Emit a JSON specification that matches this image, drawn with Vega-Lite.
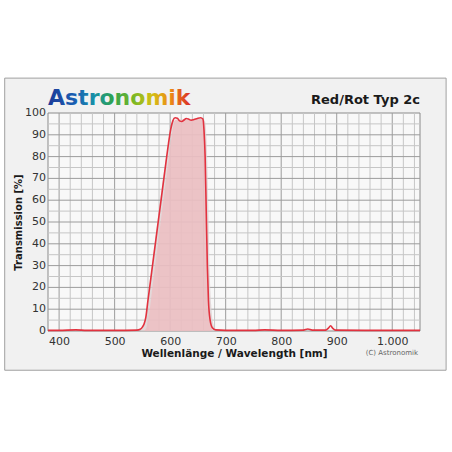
{
  "$schema": "https://vega.github.io/schema/vega-lite/v6.json",
  "autosize": "none",
  "width": 372,
  "height": 218,
  "padding": {"left": 48, "top": 113, "right": 32, "bottom": 121},
  "background": "white",
  "config": {
    "view": {"stroke": null},
    "axis": {"labelFont": "DejaVu Sans", "titleFont": "DejaVu Sans", "labelColor": "#333", "titleColor": "#1a1a1a", "domain": false, "ticks": false, "grid": false, "labelOverlap": false}
  },
  "datasets": {
    "curves": [
      {"nm": 380, "v": 0.3, "s": "line"}, {"nm": 400, "v": 0.3, "s": "line"}, {"nm": 430, "v": 0.5, "s": "line"}, {"nm": 450, "v": 0.3, "s": "line"}, {"nm": 500, "v": 0.3, "s": "line"}, {"nm": 540, "v": 0.4, "s": "line"}, {"nm": 546, "v": 0.8, "s": "line"}, {"nm": 550, "v": 1.8, "s": "line"}, {"nm": 553, "v": 3.2, "s": "line"}, {"nm": 556, "v": 6, "s": "line"}, {"nm": 560, "v": 14, "s": "line"}, {"nm": 570, "v": 33.5, "s": "line"}, {"nm": 580, "v": 53, "s": "line"}, {"nm": 590, "v": 72.5, "s": "line"}, {"nm": 597, "v": 86, "s": "line"}, {"nm": 601, "v": 92.5, "s": "line"}, {"nm": 605, "v": 96.5, "s": "line"}, {"nm": 609, "v": 97.8, "s": "line"}, {"nm": 613, "v": 97.6, "s": "line"}, {"nm": 617, "v": 96.4, "s": "line"}, {"nm": 621, "v": 96.1, "s": "line"}, {"nm": 625, "v": 96.8, "s": "line"}, {"nm": 629, "v": 97.5, "s": "line"}, {"nm": 633, "v": 97.2, "s": "line"}, {"nm": 638, "v": 96.7, "s": "line"}, {"nm": 643, "v": 97, "s": "line"}, {"nm": 649, "v": 97.5, "s": "line"}, {"nm": 655, "v": 97.8, "s": "line"}, {"nm": 659, "v": 97.2, "s": "line"}, {"nm": 661, "v": 92, "s": "line"}, {"nm": 663, "v": 80, "s": "line"}, {"nm": 665, "v": 55, "s": "line"}, {"nm": 667, "v": 30, "s": "line"}, {"nm": 669, "v": 14, "s": "line"}, {"nm": 672, "v": 5, "s": "line"}, {"nm": 676, "v": 1.5, "s": "line"}, {"nm": 682, "v": 0.5, "s": "line"}, {"nm": 700, "v": 0.3, "s": "line"}, {"nm": 750, "v": 0.3, "s": "line"}, {"nm": 770, "v": 0.5, "s": "line"}, {"nm": 800, "v": 0.3, "s": "line"}, {"nm": 840, "v": 0.4, "s": "line"}, {"nm": 848, "v": 0.9, "s": "line"}, {"nm": 856, "v": 0.4, "s": "line"}, {"nm": 880, "v": 0.4, "s": "line"}, {"nm": 885, "v": 1.3, "s": "line"}, {"nm": 889, "v": 2.4, "s": "line"}, {"nm": 893, "v": 1.2, "s": "line"}, {"nm": 898, "v": 0.4, "s": "line"}, {"nm": 950, "v": 0.3, "s": "line"}, {"nm": 1000, "v": 0.3, "s": "line"}, {"nm": 1050, "v": 0.3, "s": "line"},
      {"nm": 546, "v": 0, "s": "gray"}, {"nm": 550, "v": 1.8, "s": "gray"}, {"nm": 556, "v": 6, "s": "gray"}, {"nm": 560, "v": 14, "s": "gray"}, {"nm": 597, "v": 86, "s": "gray"}, {"nm": 605, "v": 96.5, "s": "gray"}, {"nm": 630, "v": 97, "s": "gray"}, {"nm": 659, "v": 97.4, "s": "gray"}, {"nm": 663, "v": 96, "s": "gray"}, {"nm": 666, "v": 85, "s": "gray"}, {"nm": 669, "v": 55, "s": "gray"}, {"nm": 671, "v": 30, "s": "gray"}, {"nm": 674, "v": 12, "s": "gray"}, {"nm": 678, "v": 3, "s": "gray"}, {"nm": 684, "v": 0, "s": "gray"},
      {"nm": 553, "v": 0, "s": "pink"}, {"nm": 557, "v": 1.5, "s": "pink"}, {"nm": 561, "v": 6, "s": "pink"}, {"nm": 570, "v": 24, "s": "pink"}, {"nm": 580, "v": 44, "s": "pink"}, {"nm": 590, "v": 64, "s": "pink"}, {"nm": 600, "v": 84, "s": "pink"}, {"nm": 605, "v": 93, "s": "pink"}, {"nm": 610, "v": 97, "s": "pink"}, {"nm": 630, "v": 97, "s": "pink"}, {"nm": 658, "v": 97.2, "s": "pink"}, {"nm": 661, "v": 92, "s": "pink"}, {"nm": 663, "v": 80, "s": "pink"}, {"nm": 665, "v": 55, "s": "pink"}, {"nm": 667, "v": 30, "s": "pink"}, {"nm": 669, "v": 14, "s": "pink"}, {"nm": 672, "v": 5, "s": "pink"}, {"nm": 676, "v": 0, "s": "pink"}
    ],
    "vgrid": [{"g": 400}, {"g": 420}, {"g": 440}, {"g": 460}, {"g": 480}, {"g": 500}, {"g": 520}, {"g": 540}, {"g": 560}, {"g": 580}, {"g": 600}, {"g": 620}, {"g": 640}, {"g": 660}, {"g": 680}, {"g": 700}, {"g": 720}, {"g": 740}, {"g": 760}, {"g": 780}, {"g": 800}, {"g": 820}, {"g": 840}, {"g": 860}, {"g": 880}, {"g": 900}, {"g": 920}, {"g": 940}, {"g": 960}, {"g": 980}, {"g": 1000}, {"g": 1020}, {"g": 1040}],
    "hgrid": [{"g": 5}, {"g": 10}, {"g": 15}, {"g": 20}, {"g": 25}, {"g": 30}, {"g": 35}, {"g": 40}, {"g": 45}, {"g": 50}, {"g": 55}, {"g": 60}, {"g": 65}, {"g": 70}, {"g": 75}, {"g": 80}, {"g": 85}, {"g": 90}, {"g": 95}],
    "ylabels": [{"g": 0}, {"g": 10}, {"g": 20}, {"g": 30}, {"g": 40}, {"g": 50}, {"g": 60}, {"g": 70}, {"g": 80}, {"g": 90}, {"g": 100}]
  },
  "layer": [
    {
      "data": {"values": [{}]},
      "mark": {"type": "rect", "fill": "#f1f1f1", "stroke": "#a0a0a0", "strokeWidth": 1, "clip": false},
      "encoding": {
        "x": {"datum": 302, "type": "quantitative", "scale": {"domain": [380, 1050], "nice": false, "zero": false}},
        "x2": {"datum": 1097},
        "y": {"datum": 116, "type": "quantitative", "scale": {"domain": [0, 100], "nice": false}},
        "y2": {"datum": -18}
      }
    },
    {
      "data": {"values": [{}]},
      "mark": {"type": "rect", "fill": "#f8f8f8", "stroke": "#8a8a8a", "strokeWidth": 1},
      "encoding": {
        "x": {"datum": 380, "type": "quantitative"},
        "x2": {"datum": 1050},
        "y": {"datum": 0, "type": "quantitative"},
        "y2": {"datum": 100}
      }
    },
    {
      "data": {"name": "vgrid"},
      "mark": {"type": "rule", "strokeWidth": 1},
      "encoding": {
        "x": {"field": "g", "type": "quantitative"},
        "color": {"condition": {"test": "datum.g % 100 === 0", "value": "#9c9c9c"}, "value": "#c6c6c6"}
      }
    },
    {
      "data": {"name": "hgrid"},
      "mark": {"type": "rule", "strokeWidth": 1},
      "encoding": {
        "y": {"field": "g", "type": "quantitative"},
        "color": {"condition": {"test": "datum.g % 10 === 0", "value": "#9c9c9c"}, "value": "#c6c6c6"}
      }
    },
    {
      "data": {"name": "curves"},
      "transform": [{"filter": "datum.s === 'gray'"}],
      "mark": {"type": "area", "color": "#dccfd0", "opacity": 0.75, "interpolate": "monotone"},
      "encoding": {"x": {"field": "nm", "type": "quantitative"}, "y": {"field": "v", "type": "quantitative"}}
    },
    {
      "data": {"name": "curves"},
      "transform": [{"filter": "datum.s === 'pink'"}],
      "mark": {"type": "area", "color": "#efb9bd", "opacity": 0.7, "interpolate": "monotone"},
      "encoding": {"x": {"field": "nm", "type": "quantitative"}, "y": {"field": "v", "type": "quantitative"}}
    },
    {
      "data": {"name": "curves"},
      "transform": [{"filter": "datum.s === 'line'"}],
      "mark": {"type": "line", "color": "#e2323f", "strokeWidth": 1.6, "interpolate": "monotone"},
      "encoding": {
        "x": {"field": "nm", "type": "quantitative",
          "axis": {"values": [400, 500, 600, 700, 800, 900, 1000],
            "labelExpr": "datum.value >= 1000 ? '1.000' : datum.label",
            "format": "d", "zindex": 1,
            "labelFontSize": 11, "labelPadding": 4,
            "title": "Wellenlänge / Wavelength [nm]", "titleFontSize": 10.5, "titleFontWeight": "bold", "titlePadding": 2}},
        "y": {"field": "v", "type": "quantitative",
          "axis": {"labels": false, "zindex": 1,
            "title": "Transmission [%]", "titleFontSize": 10, "titleFontWeight": "bold", "titlePadding": 25}}
      }
    },
    {
      "data": {"name": "ylabels"},
      "mark": {"type": "text", "font": "DejaVu Sans", "fontSize": 11, "color": "#333", "align": "right", "baseline": "middle", "dx": -2, "clip": false},
      "encoding": {
        "x": {"datum": 380},
        "y": {"field": "g", "type": "quantitative"},
        "text": {"field": "g", "type": "quantitative", "format": "d"}
      }
    },
    {
      "data": {"values": [{}]},
      "mark": {"type": "text", "text": "Astronomik", "font": "DejaVu Sans", "fontSize": 22, "fontWeight": "bold", "align": "left", "baseline": "alphabetic", "dy": -8, "clip": false,
        "color": {"gradient": "linear", "x1": 0, "y1": 0, "x2": 1, "y2": 0,
          "stops": [
            {"offset": 0, "color": "#1d3a98"},
            {"offset": 0.2, "color": "#1a62b4"},
            {"offset": 0.32, "color": "#1890a8"},
            {"offset": 0.45, "color": "#2fa250"},
            {"offset": 0.6, "color": "#7cb824"},
            {"offset": 0.72, "color": "#d2c016"},
            {"offset": 0.85, "color": "#ec8c16"},
            {"offset": 1, "color": "#d8262a"}
          ]}},
      "encoding": {"x": {"datum": 380}, "y": {"datum": 100}}
    },
    {
      "data": {"values": [{}]},
      "mark": {"type": "text", "text": "Red/Rot Typ 2c", "font": "DejaVu Sans", "fontSize": 13, "fontWeight": "bold", "color": "#1a1a1a", "align": "right", "baseline": "alphabetic", "dy": -9, "clip": false},
      "encoding": {"x": {"datum": 1050}, "y": {"datum": 100}}
    },
    {
      "data": {"values": [{}]},
      "mark": {"type": "text", "text": "(C) Astronomik", "font": "DejaVu Sans", "fontSize": 7, "color": "#666", "align": "right", "baseline": "middle", "dy": 22, "dx": -2, "clip": false},
      "encoding": {"x": {"datum": 1050}, "y": {"datum": 0}}
    }
  ]
}
